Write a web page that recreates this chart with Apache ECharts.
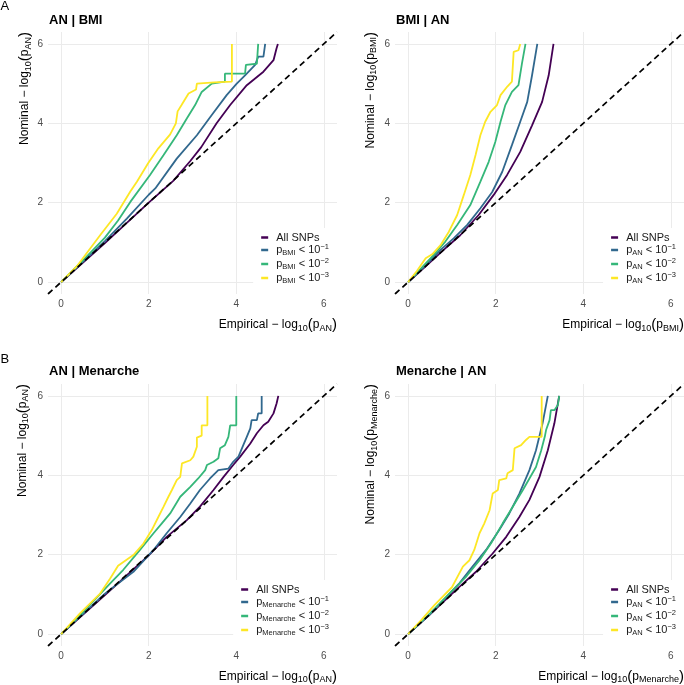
<!DOCTYPE html>
<html><head><meta charset="utf-8">
<script src="https://cdn.jsdelivr.net/npm/echarts@6/dist/echarts.min.js"></script>
<style>html,body{margin:0;padding:0;background:#fff}#c{width:684px;height:685px}</style>
</head><body><div id="c"></div>
<script>
// ---- text / categories ----
const panelTitles = ['AN | BMI', 'BMI | AN', 'AN | Menarche', 'Menarche | AN'];
const panelLetters = ['A', 'B'];
const testedTraits = ['AN', 'BMI', 'AN', 'Menarche'];   // trait on both axes
const conditionTraits = ['BMI', 'AN', 'Menarche', 'AN']; // trait in legend subscripts
const thresholdExponents = ['−1', '−2', '−3'];
const allLabel = 'All SNPs';
const tickValues = [0, 2, 4, 6];
const axisMin = -0.3, axisMax = 6.3;
const seriesColors = ['#440154', '#31688E', '#35B779', '#FDE725'];

// ---- data: [empirical -log10 p, nominal -log10 p] ----
// Panel A left: AN | BMI
const anBmiAll = [[0,0],[1.0,0.98],[2.0,2.0],[2.56,2.55],[2.95,3.05],[3.2,3.4],[3.55,4.0],[3.86,4.46],[4.24,4.96],[4.62,5.30],[4.85,5.59],[4.92,5.89],[4.95,6.0]];
const anBmiP1 = [[0,0],[1.0,1.03],[1.5,1.6],[2.0,2.2],[2.15,2.36],[2.64,3.11],[3.10,3.70],[3.44,4.21],[3.78,4.71],[4.01,5.0],[4.20,5.21],[4.43,5.47],[4.50,5.68],[4.62,5.68],[4.66,6.0]];
const anBmiP2 = [[0,0],[0.5,0.55],[1.0,1.12],[1.3,1.55],[1.58,2.02],[2.03,2.70],[2.34,3.20],[2.64,3.70],[2.87,4.12],[3.06,4.46],[3.21,4.79],[3.44,5.0],[3.74,5.05],[3.74,5.25],[4.20,5.25],[4.22,5.47],[4.47,5.50],[4.50,6.0]];
const anBmiP3 = [[0,0],[0.36,0.40],[0.89,1.18],[1.27,1.72],[1.58,2.28],[1.73,2.53],[1.99,3.0],[2.22,3.37],[2.49,3.72],[2.62,4.0],[2.66,4.3],[2.75,4.46],[2.91,4.75],[3.08,4.85],[3.10,5.0],[3.5,5.03],[3.90,5.05],[3.90,6.0]];
// Panel A right: BMI | AN
const bmiAnAll = [[0,0],[0.4,0.4],[0.81,0.81],[1.19,1.18],[1.61,1.69],[1.95,2.19],[2.26,2.70],[2.56,3.28],[2.83,3.95],[3.06,4.54],[3.21,5.21],[3.32,6.0]];
const bmiAnP1 = [[0,0],[0.4,0.42],[0.74,0.81],[1.04,1.10],[1.35,1.44],[1.65,1.86],[1.92,2.27],[2.15,2.78],[2.37,3.45],[2.56,4.04],[2.72,4.54],[2.83,5.21],[2.95,6.0]];
const bmiAnP2 = [[0,0],[0.3,0.35],[0.58,0.68],[0.85,1.02],[1.12,1.44],[1.42,1.94],[1.65,2.53],[1.84,3.03],[1.99,3.53],[2.11,4.04],[2.22,4.46],[2.37,4.79],[2.52,4.96],[2.60,5.51],[2.68,6.0]];
const bmiAnP3 = [[0,0],[0.2,0.28],[0.40,0.6],[0.55,0.70],[0.74,0.93],[0.93,1.27],[1.12,1.69],[1.27,2.19],[1.42,2.70],[1.54,3.20],[1.65,3.70],[1.76,4.04],[1.88,4.29],[2.03,4.46],[2.11,4.71],[2.26,4.92],[2.37,5.05],[2.41,5.80],[2.52,5.84],[2.56,6.0]];
// Panel B left: AN | Menarche
const anMenAll = [[0,0],[1.0,0.98],[2.0,1.98],[2.41,2.45],[2.87,2.87],[3.17,3.21],[3.48,3.63],[3.71,3.96],[3.93,4.26],[4.09,4.47],[4.32,4.80],[4.47,5.06],[4.62,5.26],[4.73,5.35],[4.85,5.56],[4.92,5.81],[4.96,6.0]];
const anMenP1 = [[0,0],[1.0,1.02],[1.65,1.57],[2.11,2.12],[2.41,2.54],[2.72,2.95],[2.95,3.29],[3.17,3.63],[3.40,3.92],[3.59,4.13],[3.82,4.17],[3.93,4.34],[4.05,4.47],[4.16,4.76],[4.24,4.97],[4.32,5.18],[4.35,5.39],[4.47,5.39],[4.50,5.56],[4.58,5.56],[4.58,6.0]];
const anMenP2 = [[0,0],[0.5,0.55],[1.12,1.28],[1.42,1.62],[1.80,2.12],[2.11,2.54],[2.30,2.79],[2.49,3.04],[2.72,3.46],[2.95,3.71],[3.13,3.92],[3.29,4.13],[3.33,4.26],[3.48,4.34],[3.59,4.43],[3.63,4.68],[3.74,4.76],[3.82,4.97],[3.86,5.26],[4.0,5.26],[4.0,6.0]];
const anMenP3 = [[0,0],[0.43,0.52],[0.89,1.02],[1.12,1.40],[1.30,1.72],[1.65,1.99],[1.88,2.28],[2.07,2.62],[2.22,2.95],[2.34,3.21],[2.45,3.46],[2.53,3.63],[2.64,3.88],[2.72,3.96],[2.76,4.30],[2.95,4.38],[3.02,4.47],[3.10,4.72],[3.10,4.95],[3.21,5.0],[3.21,5.26],[3.34,5.26],[3.34,6.0]];
// Panel B right: Menarche | AN
const menAnAll = [[0,0],[0.5,0.5],[1.17,1.19],[1.55,1.57],[1.93,2.03],[2.24,2.45],[2.54,2.95],[2.77,3.38],[3.0,3.96],[3.19,4.63],[3.34,5.31],[3.45,6.0]];
const menAnP1 = [[0,0],[0.5,0.5],[1.17,1.28],[1.47,1.70],[1.78,2.12],[2.08,2.62],[2.31,3.04],[2.54,3.54],[2.77,4.13],[2.92,4.63],[3.07,5.31],[3.19,6.0]];
const menAnP2 = [[0,0],[0.5,0.52],[1.02,1.11],[1.32,1.44],[1.63,1.86],[1.89,2.28],[2.16,2.79],[2.39,3.21],[2.62,3.63],[2.77,3.92],[2.92,4.21],[3.04,4.63],[3.12,4.97],[3.15,5.14],[3.23,5.39],[3.26,5.64],[3.34,5.64],[3.42,5.77],[3.45,6.0]];
const menAnP3 = [[0,0],[0.3,0.35],[0.60,0.73],[1.0,1.18],[1.25,1.70],[1.40,1.86],[1.51,2.12],[1.63,2.54],[1.74,2.79],[1.86,3.12],[1.93,3.54],[2.05,3.63],[2.08,3.88],[2.24,3.92],[2.27,4.05],[2.39,4.13],[2.43,4.68],[2.58,4.76],[2.69,4.89],[2.77,4.97],[3.05,4.97],[3.05,6.0]];

const panelData = [
  [anBmiAll, anBmiP1, anBmiP2, anBmiP3],
  [bmiAnAll, bmiAnP1, bmiAnP2, bmiAnP3],
  [anMenAll, anMenP1, anMenP2, anMenP3],
  [menAnAll, menAnP1, menAnP2, menAnP3]
];

// ---- layout ----
const FONT = '"Liberation Sans", Arial, Helvetica, sans-serif';
const grids = [
  {left: 48, top: 32, width: 289, height: 262},
  {left: 395, top: 32, width: 289, height: 262},
  {left: 48, top: 384, width: 289, height: 262},
  {left: 395, top: 384, width: 289, height: 262}
];
const yNameX = [25, 370.5, 22.5, 371];
const xNameY = [325, 325, 676.5, 676.5];
const titleY = [20, 20, 371.7, 371.7];

const legendRich = {
  m: {fontSize: 11, lineHeight: 14, color: '#1a1a1a', fontFamily: FONT},
  s: {fontSize: 7.5, lineHeight: 6, verticalAlign: 'bottom', color: '#1a1a1a', fontFamily: FONT},
  u: {fontSize: 7.5, lineHeight: 8, verticalAlign: 'top', color: '#1a1a1a', fontFamily: FONT}
};
const nameRich = {
  m: {fontSize: 12, lineHeight: 16, color: '#1a1a1a', fontFamily: FONT},
  s: {fontSize: 9, lineHeight: 7, verticalAlign: 'bottom', color: '#1a1a1a', fontFamily: FONT},
  p: {fontSize: 15, lineHeight: 16, color: '#1a1a1a', fontFamily: FONT}
};

const labelMap = {};
const series = [];
const legends = [];
const xAxes = [], yAxes = [];
const graphics = [];

function axisCfg(i) {
  return {
    type: 'value', gridIndex: i, min: axisMin, max: axisMax, splitNumber: 3,
    axisLine: {show: false}, axisTick: {show: false},
    axisLabel: {
      fontSize: 10, color: '#4d4d4d', margin: 5, fontFamily: FONT,
      showMinLabel: false, showMaxLabel: false,
      formatter: v => tickValues.some(t => Math.abs(t - v) < 1e-6) ? String(Math.round(v)) : ''
    },
    splitLine: {show: true, showMinLine: false, showMaxLine: false, lineStyle: {color: '#ebebeb', width: 1}}
  };
}

for (let i = 0; i < 4; i++) {
  xAxes.push(axisCfg(i));
  yAxes.push(axisCfg(i));
  const names = [];
  panelData[i].forEach((d, k) => {
    const nm = 'p' + i + 's' + k;
    names.push(nm);
    labelMap[nm] = k === 0 ? '{m| ' + allLabel + '}'
      : '{m| p}{s|' + conditionTraits[i] + '}{m| < 10}{u|' + thresholdExponents[k - 1] + '}';
    series.push({
      type: 'line', name: nm, xAxisIndex: i, yAxisIndex: i, data: d,
      showSymbol: false, symbol: 'none', z: 2 + k,
      lineStyle: {width: 1.8, color: seriesColors[k]}, itemStyle: {color: seriesColors[k]}
    });
  });
  series.push({
    type: 'line', name: 'identity' + i, xAxisIndex: i, yAxisIndex: i,
    data: [[axisMin, axisMin], [axisMax, axisMax]], showSymbol: false, symbol: 'none', z: 10,
    lineStyle: {width: 1.7, color: '#000', type: [6, 4]}
  });
  const g = grids[i];
  legends.push({
    orient: 'vertical', right: 684 - (g.left + g.width), bottom: 685 - (g.top + g.height),
    itemWidth: 7, itemHeight: 2.5, itemGap: 0, icon: 'rect', selectedMode: false,
    backgroundColor: '#fff', padding: [4, 8, 9, 8],
    data: names, formatter: n => labelMap[n],
    textStyle: {rich: legendRich, fontSize: 11, fontFamily: FONT}
  });
  // titles
  graphics.push({type: 'text', x: g.left + 1, y: titleY[i], style: {
    text: panelTitles[i], fontSize: 13, fontWeight: 'bold', fill: '#000', fontFamily: FONT,
    align: 'left', verticalAlign: 'middle'}});
  // axis names
  const tr = testedTraits[i];
  graphics.push({type: 'text', x: Math.min(g.left + g.width, 684), y: xNameY[i], style: {
    text: '{m|Empirical − log}{s|10}{p|(}{m|p}{s|' + tr + '}{p|)}', rich: nameRich,
    align: 'right', verticalAlign: 'middle'}});
  graphics.push({type: 'text', x: yNameX[i], y: g.top, rotation: Math.PI / 2, style: {
    text: '{m|Nominal − log}{s|10}{p|(}{m|p}{s|' + tr + '}{p|)}', rich: nameRich,
    align: 'right', verticalAlign: 'middle'}});
}
graphics.push({type: 'text', x: 0.5, y: 6.2, style: {text: panelLetters[0], fontSize: 13, fill: '#000', fontFamily: FONT, align: 'left', verticalAlign: 'middle'}});
graphics.push({type: 'text', x: 0.5, y: 359, style: {text: panelLetters[1], fontSize: 13, fill: '#000', fontFamily: FONT, align: 'left', verticalAlign: 'middle'}});

const chart = echarts.init(document.getElementById('c'), null, {renderer: 'canvas'});
chart.setOption({
  animation: false,
  backgroundColor: '#fff',
  grid: grids,
  xAxis: xAxes,
  yAxis: yAxes,
  legend: legends,
  series: series,
  graphic: graphics
});
</script></body></html>
